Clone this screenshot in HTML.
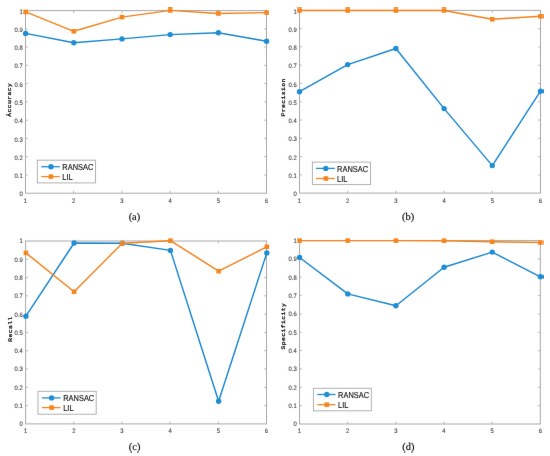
<!DOCTYPE html>
<html><head><meta charset="utf-8"><title>Figure</title>
<style>
html,body{margin:0;padding:0;background:#fff;}
body{width:550px;height:456px;overflow:hidden;}
svg{display:block;text-rendering:geometricPrecision;}
.tl{font-family:"Liberation Sans",Arial,sans-serif;font-size:59px;fill:#404040;stroke:#404040;stroke-width:1px;}
.yl{font-family:"Liberation Mono",monospace;font-weight:normal;font-size:54px;letter-spacing:3.6px;fill:#111;stroke:#111;stroke-width:2.6px;}
.lg{font-family:"Liberation Sans",Arial,sans-serif;font-size:74.5px;fill:#111;stroke:#111;stroke-width:1.2px;}
.cap{font-family:"Liberation Serif","Times New Roman",serif;font-size:104px;fill:#0a0a0a;stroke:#0a0a0a;stroke-width:1.8px;}
</style></head>
<body>
<svg width="550" height="456" viewBox="0 0 550 456">
<defs><filter id="bl" x="0" y="0" width="100%" height="100%" color-interpolation-filters="sRGB"><feConvolveMatrix order="3" kernelMatrix="0.0028 0.0470 0.0028 0.0470 0.8008 0.0470 0.0028 0.0470 0.0028" edgeMode="duplicate" preserveAlpha="false"/></filter></defs>
<rect width="550" height="456" fill="#fff"/>
<g filter="url(#bl)">
<g><rect x="25.5" y="10.6" width="241" height="182.6" fill="none" stroke="#a8a8a8" stroke-width="1"/>
<path d="M73.7 193.2v-2.4M73.7 10.6v2.4M121.9 193.2v-2.4M121.9 10.6v2.4M170.1 193.2v-2.4M170.1 10.6v2.4M218.3 193.2v-2.4M218.3 10.6v2.4M25.5 174.94h2.4M266.5 174.94h-2.4M25.5 156.68h2.4M266.5 156.68h-2.4M25.5 138.42h2.4M266.5 138.42h-2.4M25.5 120.16h2.4M266.5 120.16h-2.4M25.5 101.9h2.4M266.5 101.9h-2.4M25.5 83.64h2.4M266.5 83.64h-2.4M25.5 65.38h2.4M266.5 65.38h-2.4M25.5 47.12h2.4M266.5 47.12h-2.4M25.5 28.86h2.4M266.5 28.86h-2.4" stroke="#a8a8a8" stroke-width="0.8" fill="none"/>
<g class="tl"><text transform="translate(22.7 196.3) scale(0.1 0.108)" text-anchor="end">0</text><text transform="translate(22.7 178.04) scale(0.1 0.108)" text-anchor="end">0.1</text><text transform="translate(22.7 159.78) scale(0.1 0.108)" text-anchor="end">0.2</text><text transform="translate(22.7 141.52) scale(0.1 0.108)" text-anchor="end">0.3</text><text transform="translate(22.7 123.26) scale(0.1 0.108)" text-anchor="end">0.4</text><text transform="translate(22.7 105) scale(0.1 0.108)" text-anchor="end">0.5</text><text transform="translate(22.7 86.74) scale(0.1 0.108)" text-anchor="end">0.6</text><text transform="translate(22.7 68.48) scale(0.1 0.108)" text-anchor="end">0.7</text><text transform="translate(22.7 50.22) scale(0.1 0.108)" text-anchor="end">0.8</text><text transform="translate(22.7 31.96) scale(0.1 0.108)" text-anchor="end">0.9</text><text transform="translate(22.7 13.7) scale(0.1 0.108)" text-anchor="end">1</text><text transform="translate(25.5 203.2) scale(0.1 0.108)" text-anchor="middle">1</text><text transform="translate(73.7 203.2) scale(0.1 0.108)" text-anchor="middle">2</text><text transform="translate(121.9 203.2) scale(0.1 0.108)" text-anchor="middle">3</text><text transform="translate(170.1 203.2) scale(0.1 0.108)" text-anchor="middle">4</text><text transform="translate(218.3 203.2) scale(0.1 0.108)" text-anchor="middle">5</text><text transform="translate(266.5 203.2) scale(0.1 0.108)" text-anchor="middle">6</text></g>
<text class="yl" transform="translate(11.1 116.8) rotate(-90) scale(0.118 0.1)">Accuracy</text>
<polyline points="25.6,33.4 73.8,42.7 122,38.9 170.2,34.6 218.4,32.7 266.6,41.3" fill="none" stroke="#1886cf" stroke-width="1.45" stroke-linejoin="round"/>
<circle cx="25.6" cy="33.4" r="2.7" fill="#1f8dd3"/>
<circle cx="73.8" cy="42.7" r="2.7" fill="#1f8dd3"/>
<circle cx="122" cy="38.9" r="2.7" fill="#1f8dd3"/>
<circle cx="170.2" cy="34.6" r="2.7" fill="#1f8dd3"/>
<circle cx="218.4" cy="32.7" r="2.7" fill="#1f8dd3"/>
<circle cx="266.6" cy="41.3" r="2.7" fill="#1f8dd3"/>
<polyline points="25.6,11.9 73.8,31.3 122,17.1 170.2,10.4 218.4,13.5 266.6,12.6" fill="none" stroke="#f3821b" stroke-width="1.45" stroke-linejoin="round"/>
<rect x="23.3" y="9.6" width="4.6" height="4.6" fill="#f5861f"/>
<rect x="71.5" y="29" width="4.6" height="4.6" fill="#f5861f"/>
<rect x="119.7" y="14.8" width="4.6" height="4.6" fill="#f5861f"/>
<rect x="167.9" y="8.1" width="4.6" height="4.6" fill="#f5861f"/>
<rect x="216.1" y="11.2" width="4.6" height="4.6" fill="#f5861f"/>
<rect x="264.3" y="10.3" width="4.6" height="4.6" fill="#f5861f"/>
<rect x="37.3" y="160.2" width="58.2" height="22.7" fill="#fff" stroke="#a8a8a8" stroke-width="0.9"/>
<path d="M41.3 166.7H59.8" stroke="#1f8dd3" stroke-width="1.3"/>
<circle cx="50.95" cy="166.7" r="2.7" fill="#1f8dd3"/>
<path d="M41.3 176.6H59.8" stroke="#f5861f" stroke-width="1.3"/>
<rect x="48.65" y="174.3" width="4.6" height="4.6" fill="#f5861f"/>
<text class="lg" transform="translate(62.3 169.8) scale(0.1 0.116)">RANSAC</text>
<text class="lg" transform="translate(62.3 179.7) scale(0.1 0.116)">LIL</text>
<text class="cap" transform="translate(134.4 219.7) scale(0.1)" text-anchor="middle">(a)</text></g>
<g><rect x="299.5" y="10.4" width="241" height="182.7" fill="none" stroke="#a8a8a8" stroke-width="1"/>
<path d="M347.7 193.1v-2.4M347.7 10.4v2.4M395.9 193.1v-2.4M395.9 10.4v2.4M444.1 193.1v-2.4M444.1 10.4v2.4M492.3 193.1v-2.4M492.3 10.4v2.4M299.5 174.83h2.4M540.5 174.83h-2.4M299.5 156.56h2.4M540.5 156.56h-2.4M299.5 138.29h2.4M540.5 138.29h-2.4M299.5 120.02h2.4M540.5 120.02h-2.4M299.5 101.75h2.4M540.5 101.75h-2.4M299.5 83.48h2.4M540.5 83.48h-2.4M299.5 65.21h2.4M540.5 65.21h-2.4M299.5 46.94h2.4M540.5 46.94h-2.4M299.5 28.67h2.4M540.5 28.67h-2.4" stroke="#a8a8a8" stroke-width="0.8" fill="none"/>
<g class="tl"><text transform="translate(296.7 196.2) scale(0.1 0.108)" text-anchor="end">0</text><text transform="translate(296.7 177.93) scale(0.1 0.108)" text-anchor="end">0.1</text><text transform="translate(296.7 159.66) scale(0.1 0.108)" text-anchor="end">0.2</text><text transform="translate(296.7 141.39) scale(0.1 0.108)" text-anchor="end">0.3</text><text transform="translate(296.7 123.12) scale(0.1 0.108)" text-anchor="end">0.4</text><text transform="translate(296.7 104.85) scale(0.1 0.108)" text-anchor="end">0.5</text><text transform="translate(296.7 86.58) scale(0.1 0.108)" text-anchor="end">0.6</text><text transform="translate(296.7 68.31) scale(0.1 0.108)" text-anchor="end">0.7</text><text transform="translate(296.7 50.04) scale(0.1 0.108)" text-anchor="end">0.8</text><text transform="translate(296.7 31.77) scale(0.1 0.108)" text-anchor="end">0.9</text><text transform="translate(296.7 13.5) scale(0.1 0.108)" text-anchor="end">1</text><text transform="translate(299.5 203.1) scale(0.1 0.108)" text-anchor="middle">1</text><text transform="translate(347.7 203.1) scale(0.1 0.108)" text-anchor="middle">2</text><text transform="translate(395.9 203.1) scale(0.1 0.108)" text-anchor="middle">3</text><text transform="translate(444.1 203.1) scale(0.1 0.108)" text-anchor="middle">4</text><text transform="translate(492.3 203.1) scale(0.1 0.108)" text-anchor="middle">5</text><text transform="translate(540.5 203.1) scale(0.1 0.108)" text-anchor="middle">6</text></g>
<text class="yl" transform="translate(285.4 116.5) rotate(-90) scale(0.118 0.1)">Precision</text>
<polyline points="299.5,91.7 347.7,64.6 395.9,48.5 444.1,108.6 492.3,165.6 540.5,91.2" fill="none" stroke="#1886cf" stroke-width="1.45" stroke-linejoin="round"/>
<circle cx="299.5" cy="91.7" r="2.7" fill="#1f8dd3"/>
<circle cx="347.7" cy="64.6" r="2.7" fill="#1f8dd3"/>
<circle cx="395.9" cy="48.5" r="2.7" fill="#1f8dd3"/>
<circle cx="444.1" cy="108.6" r="2.7" fill="#1f8dd3"/>
<circle cx="492.3" cy="165.6" r="2.7" fill="#1f8dd3"/>
<circle cx="540.5" cy="91.2" r="2.7" fill="#1f8dd3"/>
<polyline points="299.5,10.5 347.7,10.5 395.9,10.5 444.1,10.5 492.3,19.3 540.5,16.3" fill="none" stroke="#f3821b" stroke-width="1.45" stroke-linejoin="round"/>
<rect x="297.2" y="8.2" width="4.6" height="4.6" fill="#f5861f"/>
<rect x="345.4" y="8.2" width="4.6" height="4.6" fill="#f5861f"/>
<rect x="393.6" y="8.2" width="4.6" height="4.6" fill="#f5861f"/>
<rect x="441.8" y="8.2" width="4.6" height="4.6" fill="#f5861f"/>
<rect x="490" y="17" width="4.6" height="4.6" fill="#f5861f"/>
<rect x="538.2" y="14" width="4.6" height="4.6" fill="#f5861f"/>
<rect x="312.4" y="162.1" width="58.1" height="22.5" fill="#fff" stroke="#a8a8a8" stroke-width="0.9"/>
<path d="M316 168.4H334.9" stroke="#1f8dd3" stroke-width="1.3"/>
<circle cx="325.85" cy="168.4" r="2.7" fill="#1f8dd3"/>
<path d="M316 178.5H334.9" stroke="#f5861f" stroke-width="1.3"/>
<rect x="323.55" y="176.2" width="4.6" height="4.6" fill="#f5861f"/>
<text class="lg" transform="translate(337.1 171.5) scale(0.1 0.116)">RANSAC</text>
<text class="lg" transform="translate(337.1 181.6) scale(0.1 0.116)">LIL</text>
<text class="cap" transform="translate(408.1 219.7) scale(0.1)" text-anchor="middle">(b)</text></g>
<g><rect x="25.6" y="241" width="240.9" height="182.9" fill="none" stroke="#a8a8a8" stroke-width="1"/>
<path d="M73.78 423.9v-2.4M73.78 241v2.4M121.96 423.9v-2.4M121.96 241v2.4M170.14 423.9v-2.4M170.14 241v2.4M218.32 423.9v-2.4M218.32 241v2.4M25.6 405.61h2.4M266.5 405.61h-2.4M25.6 387.32h2.4M266.5 387.32h-2.4M25.6 369.03h2.4M266.5 369.03h-2.4M25.6 350.74h2.4M266.5 350.74h-2.4M25.6 332.45h2.4M266.5 332.45h-2.4M25.6 314.16h2.4M266.5 314.16h-2.4M25.6 295.87h2.4M266.5 295.87h-2.4M25.6 277.58h2.4M266.5 277.58h-2.4M25.6 259.29h2.4M266.5 259.29h-2.4" stroke="#a8a8a8" stroke-width="0.8" fill="none"/>
<g class="tl"><text transform="translate(22.8 426.3) scale(0.1 0.108)" text-anchor="end">0</text><text transform="translate(22.8 408.01) scale(0.1 0.108)" text-anchor="end">0.1</text><text transform="translate(22.8 389.72) scale(0.1 0.108)" text-anchor="end">0.2</text><text transform="translate(22.8 371.43) scale(0.1 0.108)" text-anchor="end">0.3</text><text transform="translate(22.8 353.14) scale(0.1 0.108)" text-anchor="end">0.4</text><text transform="translate(22.8 334.85) scale(0.1 0.108)" text-anchor="end">0.5</text><text transform="translate(22.8 316.56) scale(0.1 0.108)" text-anchor="end">0.6</text><text transform="translate(22.8 298.27) scale(0.1 0.108)" text-anchor="end">0.7</text><text transform="translate(22.8 279.98) scale(0.1 0.108)" text-anchor="end">0.8</text><text transform="translate(22.8 261.69) scale(0.1 0.108)" text-anchor="end">0.9</text><text transform="translate(22.8 243.4) scale(0.1 0.108)" text-anchor="end">1</text><text transform="translate(25.6 433.3) scale(0.1 0.108)" text-anchor="middle">1</text><text transform="translate(73.78 433.3) scale(0.1 0.108)" text-anchor="middle">2</text><text transform="translate(121.96 433.3) scale(0.1 0.108)" text-anchor="middle">3</text><text transform="translate(170.14 433.3) scale(0.1 0.108)" text-anchor="middle">4</text><text transform="translate(218.32 433.3) scale(0.1 0.108)" text-anchor="middle">5</text><text transform="translate(266.5 433.3) scale(0.1 0.108)" text-anchor="middle">6</text></g>
<text class="yl" transform="translate(11.7 341.8) rotate(-90) scale(0.118 0.1)">Recall</text>
<polyline points="25.9,316.2 74.08,243 122.26,243.3 170.44,250.4 218.62,401.2 266.8,252.9" fill="none" stroke="#1886cf" stroke-width="1.45" stroke-linejoin="round"/>
<circle cx="25.9" cy="316.2" r="2.7" fill="#1f8dd3"/>
<circle cx="74.08" cy="243" r="2.7" fill="#1f8dd3"/>
<circle cx="122.26" cy="243.3" r="2.7" fill="#1f8dd3"/>
<circle cx="170.44" cy="250.4" r="2.7" fill="#1f8dd3"/>
<circle cx="218.62" cy="401.2" r="2.7" fill="#1f8dd3"/>
<circle cx="266.8" cy="252.9" r="2.7" fill="#1f8dd3"/>
<polyline points="25.9,252.9 74.08,291.7 122.26,243.3 170.44,240.7 218.62,271.2 266.8,246.8" fill="none" stroke="#f3821b" stroke-width="1.45" stroke-linejoin="round"/>
<rect x="23.6" y="250.6" width="4.6" height="4.6" fill="#f5861f"/>
<rect x="71.78" y="289.4" width="4.6" height="4.6" fill="#f5861f"/>
<rect x="119.96" y="241" width="4.6" height="4.6" fill="#f5861f"/>
<rect x="168.14" y="238.4" width="4.6" height="4.6" fill="#f5861f"/>
<rect x="216.32" y="268.9" width="4.6" height="4.6" fill="#f5861f"/>
<rect x="264.5" y="244.5" width="4.6" height="4.6" fill="#f5861f"/>
<rect x="38" y="391.3" width="58.2" height="22.9" fill="#fff" stroke="#a8a8a8" stroke-width="0.9"/>
<path d="M41.9 397.9H60.5" stroke="#1f8dd3" stroke-width="1.3"/>
<circle cx="51.6" cy="397.9" r="2.7" fill="#1f8dd3"/>
<path d="M41.9 407.6H60.5" stroke="#f5861f" stroke-width="1.3"/>
<rect x="49.3" y="405.3" width="4.6" height="4.6" fill="#f5861f"/>
<text class="lg" transform="translate(63.2 401) scale(0.1 0.116)">RANSAC</text>
<text class="lg" transform="translate(63.2 410.7) scale(0.1 0.116)">LIL</text>
<text class="cap" transform="translate(134.6 450.2) scale(0.1)" text-anchor="middle">(c)</text></g>
<g><rect x="299.5" y="240.6" width="240.8" height="183.4" fill="none" stroke="#a8a8a8" stroke-width="1"/>
<path d="M347.66 424v-2.4M347.66 240.6v2.4M395.82 424v-2.4M395.82 240.6v2.4M443.98 424v-2.4M443.98 240.6v2.4M492.14 424v-2.4M492.14 240.6v2.4M299.5 405.66h2.4M540.3 405.66h-2.4M299.5 387.32h2.4M540.3 387.32h-2.4M299.5 368.98h2.4M540.3 368.98h-2.4M299.5 350.64h2.4M540.3 350.64h-2.4M299.5 332.3h2.4M540.3 332.3h-2.4M299.5 313.96h2.4M540.3 313.96h-2.4M299.5 295.62h2.4M540.3 295.62h-2.4M299.5 277.28h2.4M540.3 277.28h-2.4M299.5 258.94h2.4M540.3 258.94h-2.4" stroke="#a8a8a8" stroke-width="0.8" fill="none"/>
<g class="tl"><text transform="translate(296.7 426.4) scale(0.1 0.108)" text-anchor="end">0</text><text transform="translate(296.7 408.06) scale(0.1 0.108)" text-anchor="end">0.1</text><text transform="translate(296.7 389.72) scale(0.1 0.108)" text-anchor="end">0.2</text><text transform="translate(296.7 371.38) scale(0.1 0.108)" text-anchor="end">0.3</text><text transform="translate(296.7 353.04) scale(0.1 0.108)" text-anchor="end">0.4</text><text transform="translate(296.7 334.7) scale(0.1 0.108)" text-anchor="end">0.5</text><text transform="translate(296.7 316.36) scale(0.1 0.108)" text-anchor="end">0.6</text><text transform="translate(296.7 298.02) scale(0.1 0.108)" text-anchor="end">0.7</text><text transform="translate(296.7 279.68) scale(0.1 0.108)" text-anchor="end">0.8</text><text transform="translate(296.7 261.34) scale(0.1 0.108)" text-anchor="end">0.9</text><text transform="translate(296.7 243) scale(0.1 0.108)" text-anchor="end">1</text><text transform="translate(299.5 433.4) scale(0.1 0.108)" text-anchor="middle">1</text><text transform="translate(347.66 433.4) scale(0.1 0.108)" text-anchor="middle">2</text><text transform="translate(395.82 433.4) scale(0.1 0.108)" text-anchor="middle">3</text><text transform="translate(443.98 433.4) scale(0.1 0.108)" text-anchor="middle">4</text><text transform="translate(492.14 433.4) scale(0.1 0.108)" text-anchor="middle">5</text><text transform="translate(540.3 433.4) scale(0.1 0.108)" text-anchor="middle">6</text></g>
<text class="yl" transform="translate(285.2 349.6) rotate(-90) scale(0.118 0.1)">Specificity</text>
<polyline points="299.6,257.5 347.76,293.9 395.92,305.7 444.08,267.2 492.24,252.1 540.4,276.8" fill="none" stroke="#1886cf" stroke-width="1.45" stroke-linejoin="round"/>
<circle cx="299.6" cy="257.5" r="2.7" fill="#1f8dd3"/>
<circle cx="347.76" cy="293.9" r="2.7" fill="#1f8dd3"/>
<circle cx="395.92" cy="305.7" r="2.7" fill="#1f8dd3"/>
<circle cx="444.08" cy="267.2" r="2.7" fill="#1f8dd3"/>
<circle cx="492.24" cy="252.1" r="2.7" fill="#1f8dd3"/>
<circle cx="540.4" cy="276.8" r="2.7" fill="#1f8dd3"/>
<polyline points="299.6,240.6 347.76,240.6 395.92,240.6 444.08,240.7 492.24,241.7 540.4,242.5" fill="none" stroke="#f3821b" stroke-width="1.45" stroke-linejoin="round"/>
<rect x="297.3" y="238.3" width="4.6" height="4.6" fill="#f5861f"/>
<rect x="345.46" y="238.3" width="4.6" height="4.6" fill="#f5861f"/>
<rect x="393.62" y="238.3" width="4.6" height="4.6" fill="#f5861f"/>
<rect x="441.78" y="238.4" width="4.6" height="4.6" fill="#f5861f"/>
<rect x="489.94" y="239.4" width="4.6" height="4.6" fill="#f5861f"/>
<rect x="538.1" y="240.2" width="4.6" height="4.6" fill="#f5861f"/>
<rect x="313.4" y="388.3" width="57.9" height="22.5" fill="#fff" stroke="#a8a8a8" stroke-width="0.9"/>
<path d="M317.2 394.5H335.6" stroke="#1f8dd3" stroke-width="1.3"/>
<circle cx="326.8" cy="394.5" r="2.7" fill="#1f8dd3"/>
<path d="M317.2 404.7H335.6" stroke="#f5861f" stroke-width="1.3"/>
<rect x="324.5" y="402.4" width="4.6" height="4.6" fill="#f5861f"/>
<text class="lg" transform="translate(338.1 397.6) scale(0.1 0.116)">RANSAC</text>
<text class="lg" transform="translate(338.1 407.8) scale(0.1 0.116)">LIL</text>
<text class="cap" transform="translate(408.3 450.2) scale(0.1)" text-anchor="middle">(d)</text></g>
</g>
</svg>
</body></html>
